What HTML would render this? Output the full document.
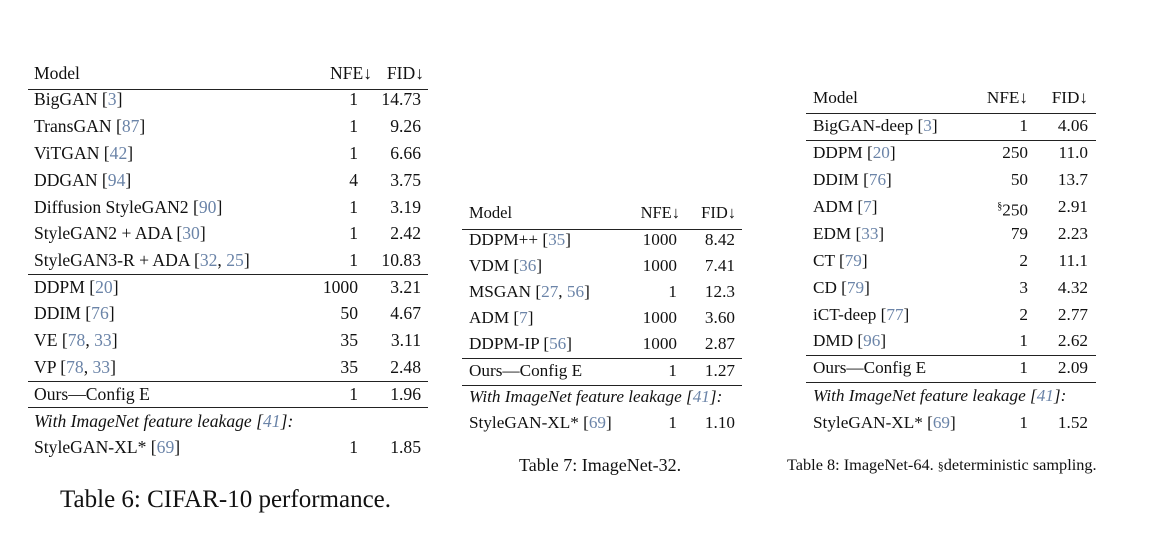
<!DOCTYPE html><html><head><style>
body{margin:0;width:1156px;height:542px;background:#fff;position:relative;overflow:hidden;font-family:"Liberation Serif",serif;color:#111}
.r{position:absolute;font-size:16.5px;line-height:20px;white-space:nowrap}
.n{text-align:right}
.l{position:absolute;height:0;border-top:1.3px solid #222}
.c{color:#6b84a8}
i{font-style:italic}
.t6{font-size:17.6px}
.t7{font-size:17.2px}
.t8{font-size:17.2px}
</style></head><body>
<!-- Table 6 -->
<div class="r t6" style="left:34px;top:63px">Model</div>
<div class="r n t6" style="left:290px;width:82px;top:63px">NFE↓</div>
<div class="r n t6" style="left:370px;width:54px;top:63px">FID↓</div>
<div class="l" style="left:28px;width:400px;top:89px;border-top-width:1.6px"></div>
<div class="l" style="left:28px;width:400px;top:274px"></div>
<div class="l" style="left:28px;width:400px;top:381px"></div>
<div class="l" style="left:28px;width:400px;top:407px"></div>
<!-- Table 7 -->
<div class="r" style="left:469px;top:203px;font-size:16.5px">Model</div>
<div class="r n" style="left:610px;width:70px;top:203px;font-size:16.5px">NFE↓</div>
<div class="r n" style="left:680px;width:56px;top:203px;font-size:16.5px">FID↓</div>
<div class="l" style="left:462px;width:280px;top:229px;border-top-width:1.6px"></div>
<div class="l" style="left:462px;width:280px;top:358px"></div>
<div class="l" style="left:462px;width:280px;top:385px"></div>
<div class="r" style="left:519px;top:455px;font-size:18px">Table 7: ImageNet-32.</div>
<!-- Table 8 -->
<div class="r t8" style="left:813px;top:88px">Model</div>
<div class="r n t8" style="left:950px;width:78px;top:88px">NFE↓</div>
<div class="r n t8" style="left:1030px;width:58px;top:88px">FID↓</div>
<div class="l" style="left:806px;width:290px;top:113px;border-top-width:1.6px"></div>
<div class="l" style="left:806px;width:290px;top:140px"></div>
<div class="l" style="left:806px;width:290px;top:355px"></div>
<div class="l" style="left:806px;width:290px;top:382px"></div>
<div class="r" style="left:787px;top:455px;font-size:16.3px">Table 8: ImageNet-64. <span style="font-size:12px">§</span>deterministic sampling.</div>
<div class="r" style="left:60px;top:486px;font-size:25px;line-height:28px">Table 6: CIFAR-10 performance.</div>
<script>
function rows(list,x,nR,fR,nW,fW,cls){let h='';for(const r of list){const t=r[0]-10;
if(r[4]){h+=`<div class="r ${cls}" style="left:${x}px;top:${t}px"><i>${r[1]}</i></div>`;continue;}
h+=`<div class="r ${cls}" style="left:${x}px;top:${t}px">${r[1]}</div><div class="r n ${cls}" style="left:${nR-nW}px;width:${nW}px;top:${t}px">${r[2]}</div><div class="r n ${cls}" style="left:${fR-fW}px;width:${fW}px;top:${t}px">${r[3]}</div>`;}
document.body.insertAdjacentHTML('beforeend',h);}
const c=s=>`<span class="c">${s}</span>`;
rows([[99,`BigGAN [${c(3)}]`,1,'14.73'],[126,`TransGAN [${c(87)}]`,1,'9.26'],[153,`ViTGAN [${c(42)}]`,1,'6.66'],[180,`DDGAN [${c(94)}]`,4,'3.75'],[207,`Diffusion StyleGAN2 [${c(90)}]`,1,'3.19'],[233,`StyleGAN2 + ADA [${c(30)}]`,1,'2.42'],[260,`StyleGAN3-R + ADA [${c(32)}, ${c(25)}]`,1,'10.83'],[287,`DDPM [${c(20)}]`,1000,'3.21'],[313,`DDIM [${c(76)}]`,50,'4.67'],[340,`VE [${c(78)}, ${c(33)}]`,35,'3.11'],[367,`VP [${c(78)}, ${c(33)}]`,35,'2.48'],[394,`Ours—Config E`,1,'1.96'],[421,`With ImageNet feature leakage [${c(41)}]:`,0,0,1],[447,`StyleGAN-XL* [${c(69)}]`,1,'1.85']],34,358,421,80,60,'t6');
rows([[240,`DDPM++ [${c(35)}]`,1000,'8.42'],[266,`VDM [${c(36)}]`,1000,'7.41'],[292,`MSGAN [${c(27)}, ${c(56)}]`,1,'12.3'],[318,`ADM [${c(7)}]`,1000,'3.60'],[344,`DDPM-IP [${c(56)}]`,1000,'2.87'],[371,`Ours—Config E`,1,'1.27'],[397,`With ImageNet feature leakage [${c(41)}]:`,0,0,1],[423,`StyleGAN-XL* [${c(69)}]`,1,'1.10']],469,677,735,70,56,'t7');
rows([[126,`BigGAN-deep [${c(3)}]`,1,'4.06'],[153,`DDPM [${c(20)}]`,250,'11.0'],[180,`DDIM [${c(76)}]`,50,'13.7'],[207,`ADM [${c(7)}]`,'<sup style="font-size:10px">§</sup>250','2.91'],[234,`EDM [${c(33)}]`,79,'2.23'],[261,`CT [${c(79)}]`,2,'11.1'],[288,`CD [${c(79)}]`,3,'4.32'],[315,`iCT-deep [${c(77)}]`,2,'2.77'],[341,`DMD [${c(96)}]`,1,'2.62'],[368,`Ours—Config E`,1,'2.09'],[396,`With ImageNet feature leakage [${c(41)}]:`,0,0,1],[423,`StyleGAN-XL* [${c(69)}]`,1,'1.52']],813,1028,1088,78,58,'t8');
</script>
</body></html>
